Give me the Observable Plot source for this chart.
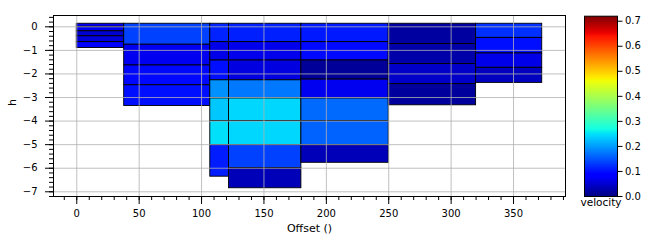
<!DOCTYPE html>
<html><head><meta charset="utf-8">
<script src="https://cdn.jsdelivr.net/npm/d3@7"></script>
<script src="https://cdn.jsdelivr.net/npm/@observablehq/plot@0.6"></script>
<style>
body{margin:0;background:white;}
#wrap{position:relative;width:656px;height:248px;}
#wrap svg{position:absolute;left:0;top:0;}
</style>
</head><body><div id="wrap"></div>
<script>
// Column boundaries along Offset
const xEdges = [0, 38, 107, 122, 180, 250, 320, 373];
// Layer boundaries (h) per column, top to bottom
const col1Depths = [0.13, 0.0, -0.19, -0.40, -0.65, -0.90];
const col2Depths = [0.13, -0.76, -1.64, -2.48, -3.36];
const col3Depths = [0.13, -0.65, -1.43, -2.27, -3.04, -4.0, -5.02, -6.36];
const col4Depths = [0.13, -0.65, -1.43, -2.27, -3.04, -4.0, -5.02, -6.0, -6.85];
const col5Depths = [0.13, -0.65, -1.43, -2.24, -3.04, -4.0, -5.02, -5.77];
const col6Depths = [0.13, -0.73, -1.58, -2.43, -3.33];
const col7Depths = [0.13, -0.47, -1.13, -1.74, -2.38];
// Velocities per layer
const col1Vel = [0.075, 0.07, 0.05, 0.055, 0.08];
const col2Vel = [0.135, 0.07, 0.095, 0.10];
const col3Vel = [0.115, 0.065, 0.10, 0.192, 0.231, 0.248, 0.11];
const col4Vel = [0.112, 0.068, 0.06, 0.175, 0.242, 0.242, 0.135, 0.035];
const col5Vel = [0.107, 0.096, 0.015, 0.07, 0.165, 0.16, 0.035];
const col6Vel = [0.020, 0.025, 0.045, 0.018];
const col7Vel = [0.124, 0.10, 0.065, 0.04];

// Ticks
const xMajorTicks = [0, 50, 100, 150, 200, 250, 300, 350];
const xMinorTicks = d3.range(-10, 391, 10);
const yMajorTicks = [0, -1, -2, -3, -4, -5, -6, -7];
const yMinorTicks = d3.range(-7.2, 0.41, 0.2).map(v => +v.toFixed(1));
const cbTicks = [0, 0.1, 0.2, 0.3, 0.4, 0.5, 0.6, 0.7];
const velMax = 0.72;

const allDepths = [col1Depths, col2Depths, col3Depths, col4Depths, col5Depths, col6Depths, col7Depths];
const allVel = [col1Vel, col2Vel, col3Vel, col4Vel, col5Vel, col6Vel, col7Vel];
const cells = [];
allDepths.forEach((d, c) => {
  allVel[c].forEach((v, i) => {
    cells.push({x1: xEdges[c], x2: xEdges[c + 1], y1: d[i], y2: d[i + 1], v});
  });
});

function seg(t, pts) {
  for (let i = 1; i < pts.length; i++) {
    if (t <= pts[i][0]) {
      const [t0, v0] = pts[i - 1], [t1, v1] = pts[i];
      return v0 + (v1 - v0) * (t - t0) / (t1 - t0);
    }
  }
  return pts[pts.length - 1][1];
}
function jet(t) {
  t = Math.max(0, Math.min(1, t));
  const r = seg(t, [[0, 0], [0.35, 0], [0.66, 1], [0.89, 1], [1, 0.5]]);
  const g = seg(t, [[0, 0], [0.125, 0], [0.375, 1], [0.64, 1], [0.91, 0], [1, 0]]);
  const b = seg(t, [[0, 0.5], [0.11, 1], [0.34, 1], [0.65, 0], [1, 0]]);
  return `rgb(${Math.round(r * 255)},${Math.round(g * 255)},${Math.round(b * 255)})`;
}
const colorScale = {type: "linear", domain: [0, velMax], interpolate: jet};
const minus = d => (d < 0 ? "\u2212" + Math.abs(d) : String(d));
const font = {fontFamily: "DejaVu Sans", fontSize: "10px", background: "transparent", color: "black", overflow: "visible"};

const main = Plot.plot({
  width: 656, height: 248,
  marginLeft: 53, marginRight: 91, marginTop: 15, marginBottom: 52,
  style: font,
  x: {domain: [-18.65, 391.65]},
  y: {domain: [-7.2, 0.48]},
  color: colorScale,
  marks: [
    Plot.rect(cells, {x1: "x1", x2: "x2", y1: "y1", y2: "y2", fill: "v", stroke: "black", strokeWidth: 0.9}),
    Plot.gridX(xMajorTicks, {stroke: "#b0b0b0", strokeOpacity: 0.8, strokeWidth: 1}),
    Plot.gridY(yMajorTicks, {stroke: "#b0b0b0", strokeOpacity: 0.8, strokeWidth: 1}),
    Plot.frame({stroke: "black", strokeWidth: 1}),
    Plot.axisX({ticks: xMinorTicks, tickSize: 4, tickFormat: () => "", label: null}),
    Plot.axisX({ticks: xMajorTicks, tickSize: 8, tickPadding: 5, tickFormat: d => String(d), label: null}),
    Plot.axisY({ticks: yMinorTicks, tickSize: 4, tickFormat: () => "", label: null}),
    Plot.axisY({ticks: yMajorTicks, tickSize: 8, tickPadding: 8, tickFormat: minus, label: null}),
    Plot.text(["Offset ()"], {frameAnchor: "bottom", dy: 35.5, text: d => d, fill: "black", fontSize: 11}),
    Plot.text(["h"], {frameAnchor: "left", dx: -41.5, rotate: -90, text: d => d, fill: "black", fontSize: 11})
  ]
});

const bar = Plot.plot({
  width: 656, height: 248,
  marginLeft: 584, marginRight: 39, marginTop: 15.7, marginBottom: 52,
  style: font,
  x: {domain: [0, 1], axis: null},
  y: {domain: [0, velMax], axis: null},
  color: colorScale,
  marks: [
    Plot.raster({x1: 0, x2: 1, y1: 0, y2: velMax, width: 1, height: 300, fill: (x, y) => y, imageRendering: "auto"}),
    Plot.frame({stroke: "black", strokeWidth: 1}),
    Plot.axisY({anchor: "right", ticks: cbTicks, tickSize: 4.5, tickPadding: 3, tickFormat: d => d.toFixed(1), label: null}),
    Plot.text(["velocity"], {frameAnchor: "bottom", dy: 9, text: d => d, fill: "black", fontSize: 10.5})
  ]
});

const wrap = document.getElementById("wrap");
wrap.appendChild(main);
wrap.appendChild(bar);
</script>
</body></html>
